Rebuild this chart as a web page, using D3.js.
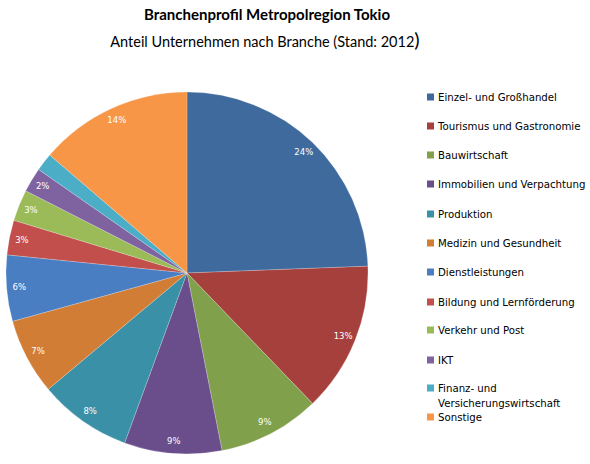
<!DOCTYPE html>
<html>
<head>
<meta charset="utf-8">
<script src="https://cdn.jsdelivr.net/npm/d3@7"></script>
<style>
  body { margin: 0; background: #fff; }
  svg { display: block; }
</style>
</head>
<body>
<div id="chart"></div>
<script>
// Branchen und Anteile (in %), aus dem Bild geschätzt
const branchen = ["Einzel- und Großhandel", "Tourismus und Gastronomie", "Bauwirtschaft",
  "Immobilien und Verpachtung", "Produktion", "Medizin und Gesundheit", "Dienstleistungen",
  "Bildung und Lernförderung", "Verkehr und Post", "IKT",
  "Finanz- und Versicherungswirtschaft", "Sonstige"];
const anteile = [24.4, 13.4, 9.1, 8.7, 8.3, 6.8, 5.9, 3.1, 2.8, 2.2, 1.6, 13.7];
const zeigeLabel = [true, true, true, true, true, true, true, true, true, true, false, true];
const farben = ["#3e6a9e", "#a5403d", "#80a04b", "#6a4e8c", "#3a90a6", "#d27d35",
  "#4a7ec3", "#c24f4c", "#9bbb59", "#7f63a1", "#4badc6", "#f79646"];

const width = 590, height = 464;
const cx = 187, cy = 273, r = 181;

const svg = d3.select("#chart").append("svg")
  .attr("width", width).attr("height", height);

svg.append("text").attr("x", 267).attr("y", 20)
  .attr("text-anchor", "middle")
  .style("font-family", "Lato, 'Open Sans', sans-serif")
  .style("font-weight", "bold").style("font-size", "15px")
  .attr("fill", "#000")
  .text("Branchenprofil Metropolregion Tokio");

let sub = svg.append("text").attr("x", 265).attr("y", 47)
  .attr("text-anchor", "middle")
  .style("font-family", "Lato, 'Open Sans', sans-serif")
  .style("font-size", "14.5px").attr("fill", "#000");
sub.append("tspan").text("Anteil Unternehmen nach Branche (Stand: 2012");
sub.append("tspan").style("font-size", "20px").text(")");

const data = branchen.map((b, i) => ({ name: b, value: anteile[i], color: farben[i], label: zeigeLabel[i] }));

const pie = d3.pie().value(d => d.value).sort(null);
const arc = d3.arc().innerRadius(0).outerRadius(r);
const labelArc = d3.arc().innerRadius(r * 0.93).outerRadius(r * 0.93);

const g = svg.append("g").attr("transform", "translate(" + cx + "," + cy + ")");

g.selectAll("path").data(pie(data)).enter().append("path")
  .attr("d", arc)
  .attr("fill", d => d.data.color)
  .attr("stroke", "rgba(255,255,255,0.35)")
  .attr("stroke-width", 0.6);

g.selectAll("text.pct").data(pie(data).filter(d => d.data.label)).enter().append("text")
  .attr("class", "pct")
  .attr("transform", d => "translate(" + labelArc.centroid(d) + ")")
  .attr("text-anchor", "middle").attr("dy", "0.35em")
  .style("font-family", "'DejaVu Sans', sans-serif").style("font-size", "8.5px")
  .attr("fill", "#fff")
  .text(d => Math.round(d.data.value) + "%");

// Legende
const legY = [97, 126, 155, 184, 214, 243, 272, 302, 330, 360, 388, 417];
const leg = svg.append("g");
data.forEach((d, i) => {
  const item = leg.append("g").attr("transform", "translate(427," + legY[i] + ")");
  item.append("rect").attr("x", 0).attr("y", -3.5).attr("width", 7).attr("height", 7)
    .attr("fill", d.color);
  let t = item.append("text").attr("x", 11).attr("y", 4)
    .style("font-family", "'DejaVu Sans', sans-serif").style("font-size", "10.2px")
    .attr("fill", "#000");
  if (d.name.startsWith("Finanz")) {
    t.append("tspan").attr("x", 11).text("Finanz- und");
    t.append("tspan").attr("x", 11).attr("dy", 15).text("Versicherungswirtschaft");
  } else {
    t.text(d.name);
  }
});
</script>
</body>
</html>
